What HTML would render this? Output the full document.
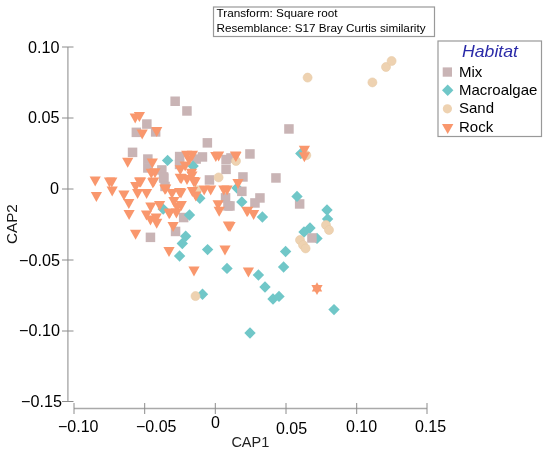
<!DOCTYPE html>
<html><head><meta charset="utf-8"><title>CAP</title>
<style>
html,body{margin:0;padding:0;background:#fff;}
body{width:550px;height:455px;overflow:hidden;position:relative;font-family:"Liberation Sans",Arial,sans-serif;}
svg{position:absolute;left:0;top:0;}
.t{font-family:"Liberation Sans",Arial,sans-serif;fill:#000;}
</style></head><body>
<svg width="550" height="455" viewBox="0 0 550 455">
<rect x="0" y="0" width="550" height="455" fill="#fff"/>
<!-- axes -->
<line x1="67.9" y1="47" x2="67.9" y2="401.5" stroke="#a9a9a9" stroke-width="1.4"/>
<line x1="74" y1="408.5" x2="427" y2="408.5" stroke="#a9a9a9" stroke-width="1.4"/>
<line x1="74" y1="403" x2="74" y2="414" stroke="#8c8c8c" stroke-width="1"/><line x1="144.7" y1="403" x2="144.7" y2="414" stroke="#8c8c8c" stroke-width="1"/><line x1="215.3" y1="403" x2="215.3" y2="414" stroke="#8c8c8c" stroke-width="1"/><line x1="286" y1="403" x2="286" y2="414" stroke="#8c8c8c" stroke-width="1"/><line x1="356.7" y1="403" x2="356.7" y2="414" stroke="#8c8c8c" stroke-width="1"/><line x1="427" y1="403" x2="427" y2="414" stroke="#8c8c8c" stroke-width="1"/><line x1="62" y1="47" x2="73.5" y2="47" stroke="#8c8c8c" stroke-width="1"/><line x1="62" y1="118" x2="73.5" y2="118" stroke="#8c8c8c" stroke-width="1"/><line x1="62" y1="189" x2="73.5" y2="189" stroke="#8c8c8c" stroke-width="1"/><line x1="62" y1="260" x2="73.5" y2="260" stroke="#8c8c8c" stroke-width="1"/><line x1="62" y1="331" x2="73.5" y2="331" stroke="#8c8c8c" stroke-width="1"/><line x1="62" y1="401.5" x2="73.5" y2="401.5" stroke="#8c8c8c" stroke-width="1"/>
<!-- y labels -->
<g class="t" font-size="16.2" text-anchor="end">
<text x="59.5" y="52.5">0.10</text>
<text x="59.5" y="122.5">0.05</text>
<text x="59" y="194">0</text>
<text x="60" y="266">−0.05</text>
<text x="60" y="336">−0.10</text>
<text x="62" y="407">−0.15</text>
</g>
<g class="t" font-size="16" text-anchor="start">
<text x="58" y="432">−0.10</text>
<text x="136" y="432">−0.05</text>
<text x="211" y="428">0</text>
<text x="276" y="433.5">0.05</text>
<text x="346" y="432">0.10</text>
<text x="415" y="432">0.15</text>
</g>
<text class="t" font-size="14.5" x="231.4" y="446.6" style="fill:#222">CAP1</text>
<text class="t" font-size="15.2" transform="translate(16.8,243.9) rotate(-90)" style="fill:#151515">CAP2</text>
<!-- info box -->
<rect x="213.5" y="7" width="221" height="29.5" fill="#fff" stroke="#999" stroke-width="1.2"/>
<text class="t" font-size="11" x="216.5" y="17.2" textLength="121" lengthAdjust="spacingAndGlyphs">Transform: Square root</text>
<text class="t" font-size="11" x="216.5" y="32" textLength="209" lengthAdjust="spacingAndGlyphs">Resemblance: S17 Bray Curtis similarity</text>
<!-- legend -->
<rect x="438" y="41" width="103.5" height="95.5" fill="#fff" stroke="#999" stroke-width="1.2"/>
<text font-family="Liberation Sans, Arial, sans-serif" font-style="italic" font-size="17" x="462" y="56.6" fill="#2a2aa8" textLength="56" lengthAdjust="spacingAndGlyphs">Habitat</text>
<g class="t" font-size="15">
<text x="459" y="76.5">Mix</text>
<text x="459" y="94.6">Macroalgae</text>
<text x="459" y="112.8">Sand</text>
<text x="459" y="131.5">Rock</text>
</g>
<rect x="442.7" y="67.4" width="9.3" height="9.3" fill="#c9b4b5"/>
<polygon points="447.7,84.6 453.4,90.3 447.7,96 442,90.3" fill="#70c7c8"/>
<circle cx="447.4" cy="108.8" r="4.6" fill="#eed2b1"/>
<polygon points="442,124 453.4,124 447.7,134" fill="#f9976d"/>
<!-- markers -->
<polygon points="237.0,182.3 242.7,188.0 237.0,193.7 231.3,188.0" fill="#70c7c8"/>
<polygon points="317.0,232.7 322.7,238.4 317.0,244.1 311.3,238.4" fill="#70c7c8"/>
<rect x="170.4" y="96.5" width="9.5" height="9.5" fill="#c9b4b5"/>
<rect x="182.2" y="106.2" width="9.5" height="9.5" fill="#c9b4b5"/>
<rect x="142.1" y="119.3" width="9.5" height="9.5" fill="#c9b4b5"/>
<rect x="131.6" y="127.6" width="9.5" height="9.5" fill="#c9b4b5"/>
<rect x="150.9" y="127.2" width="9.5" height="9.5" fill="#c9b4b5"/>
<rect x="127.8" y="147.6" width="9.5" height="9.5" fill="#c9b4b5"/>
<rect x="202.6" y="138.1" width="9.5" height="9.5" fill="#c9b4b5"/>
<rect x="145.7" y="232.6" width="9.5" height="9.5" fill="#c9b4b5"/>
<rect x="143.1" y="154.3" width="9.5" height="9.5" fill="#c9b4b5"/>
<rect x="143.1" y="163.2" width="9.5" height="9.5" fill="#c9b4b5"/>
<rect x="157.1" y="165.2" width="9.5" height="9.5" fill="#c9b4b5"/>
<rect x="159.1" y="173.4" width="9.5" height="9.5" fill="#c9b4b5"/>
<rect x="158.8" y="172.2" width="9.5" height="9.5" fill="#c9b4b5"/>
<rect x="160.3" y="181.7" width="9.5" height="9.5" fill="#c9b4b5"/>
<rect x="174.9" y="151.8" width="9.5" height="9.5" fill="#c9b4b5"/>
<rect x="174.8" y="159.7" width="9.5" height="9.5" fill="#c9b4b5"/>
<rect x="191.4" y="154.3" width="9.5" height="9.5" fill="#c9b4b5"/>
<rect x="197.7" y="152.2" width="9.5" height="9.5" fill="#c9b4b5"/>
<rect x="221.3" y="154.8" width="9.5" height="9.5" fill="#c9b4b5"/>
<rect x="221.3" y="164.6" width="9.5" height="9.5" fill="#c9b4b5"/>
<rect x="204.7" y="175.2" width="9.5" height="9.5" fill="#c9b4b5"/>
<rect x="220.8" y="193.1" width="9.5" height="9.5" fill="#c9b4b5"/>
<rect x="223.2" y="201.2" width="9.5" height="9.5" fill="#c9b4b5"/>
<rect x="237.1" y="186.6" width="9.5" height="9.5" fill="#c9b4b5"/>
<rect x="178.9" y="212.8" width="9.5" height="9.5" fill="#c9b4b5"/>
<rect x="170.8" y="226.7" width="9.5" height="9.5" fill="#c9b4b5"/>
<rect x="284.2" y="124.2" width="9.5" height="9.5" fill="#c9b4b5"/>
<rect x="245.2" y="149.2" width="9.5" height="9.5" fill="#c9b4b5"/>
<rect x="271.2" y="173.2" width="9.5" height="9.5" fill="#c9b4b5"/>
<rect x="226.2" y="153.2" width="9.5" height="9.5" fill="#c9b4b5"/>
<rect x="238.2" y="172.2" width="9.5" height="9.5" fill="#c9b4b5"/>
<rect x="255.2" y="193.2" width="9.5" height="9.5" fill="#c9b4b5"/>
<rect x="250.2" y="198.2" width="9.5" height="9.5" fill="#c9b4b5"/>
<rect x="225.2" y="201.2" width="9.5" height="9.5" fill="#c9b4b5"/>
<rect x="294.9" y="199.2" width="9.5" height="9.5" fill="#c9b4b5"/>
<rect x="307.2" y="233.2" width="9.5" height="9.5" fill="#c9b4b5"/>
<polygon points="167.6,154.7 173.3,160.4 167.6,166.1 161.9,160.4" fill="#70c7c8"/>
<polygon points="163.2,203.4 168.9,209.1 163.2,214.8 157.5,209.1" fill="#70c7c8"/>
<polygon points="193.1,160.4 198.8,166.1 193.1,171.8 187.4,166.1" fill="#70c7c8"/>
<polygon points="199.8,192.6 205.5,198.3 199.8,204.0 194.1,198.3" fill="#70c7c8"/>
<polygon points="241.8,196.2 247.5,201.9 241.8,207.6 236.1,201.9" fill="#70c7c8"/>
<polygon points="189.5,209.3 195.2,215.0 189.5,220.7 183.8,215.0" fill="#70c7c8"/>
<polygon points="185.7,230.6 191.4,236.3 185.7,242.0 180.0,236.3" fill="#70c7c8"/>
<polygon points="182.3,237.8 188.0,243.5 182.3,249.2 176.6,243.5" fill="#70c7c8"/>
<polygon points="179.6,250.3 185.3,256.0 179.6,261.7 173.9,256.0" fill="#70c7c8"/>
<polygon points="207.6,243.9 213.3,249.6 207.6,255.3 201.9,249.6" fill="#70c7c8"/>
<polygon points="227.0,262.7 232.7,268.4 227.0,274.1 221.3,268.4" fill="#70c7c8"/>
<polygon points="202.5,288.5 208.2,294.2 202.5,299.9 196.8,294.2" fill="#70c7c8"/>
<polygon points="300.8,147.9 306.5,153.6 300.8,159.3 295.1,153.6" fill="#70c7c8"/>
<polygon points="262.4,211.3 268.1,217.0 262.4,222.7 256.7,217.0" fill="#70c7c8"/>
<polygon points="297.0,190.7 302.7,196.4 297.0,202.1 291.3,196.4" fill="#70c7c8"/>
<polygon points="327.0,204.3 332.7,210.0 327.0,215.7 321.3,210.0" fill="#70c7c8"/>
<polygon points="327.6,213.3 333.3,219.0 327.6,224.7 321.9,219.0" fill="#70c7c8"/>
<polygon points="310.0,222.3 315.7,228.0 310.0,233.7 304.3,228.0" fill="#70c7c8"/>
<polygon points="304.0,226.3 309.7,232.0 304.0,237.7 298.3,232.0" fill="#70c7c8"/>
<polygon points="285.6,245.8 291.3,251.5 285.6,257.2 279.9,251.5" fill="#70c7c8"/>
<polygon points="283.6,261.3 289.3,267.0 283.6,272.7 277.9,267.0" fill="#70c7c8"/>
<polygon points="258.4,269.3 264.1,275.0 258.4,280.7 252.7,275.0" fill="#70c7c8"/>
<polygon points="265.0,281.3 270.7,287.0 265.0,292.7 259.3,287.0" fill="#70c7c8"/>
<polygon points="273.0,293.3 278.7,299.0 273.0,304.7 267.3,299.0" fill="#70c7c8"/>
<polygon points="279.0,290.7 284.7,296.4 279.0,302.1 273.3,296.4" fill="#70c7c8"/>
<polygon points="250.0,327.3 255.7,333.0 250.0,338.7 244.3,333.0" fill="#70c7c8"/>
<polygon points="334.0,303.9 339.7,309.6 334.0,315.3 328.3,309.6" fill="#70c7c8"/>
<circle cx="307.6" cy="77.6" r="4.5" fill="#eed2b1" stroke="#e7cba8" stroke-width="0.6"/>
<circle cx="372.4" cy="82.4" r="4.5" fill="#eed2b1" stroke="#e7cba8" stroke-width="0.6"/>
<circle cx="386.0" cy="67.0" r="4.5" fill="#eed2b1" stroke="#e7cba8" stroke-width="0.6"/>
<circle cx="391.6" cy="61.0" r="4.5" fill="#eed2b1" stroke="#e7cba8" stroke-width="0.6"/>
<circle cx="196.9" cy="190.3" r="4.5" fill="#eed2b1" stroke="#e7cba8" stroke-width="0.6"/>
<circle cx="218.6" cy="177.4" r="4.5" fill="#eed2b1" stroke="#e7cba8" stroke-width="0.6"/>
<circle cx="195.5" cy="296.1" r="4.5" fill="#eed2b1" stroke="#e7cba8" stroke-width="0.6"/>
<circle cx="306.3" cy="155.2" r="4.5" fill="#eed2b1" stroke="#e7cba8" stroke-width="0.6"/>
<circle cx="236.0" cy="161.0" r="4.5" fill="#eed2b1" stroke="#e7cba8" stroke-width="0.6"/>
<circle cx="326.0" cy="225.0" r="4.5" fill="#eed2b1" stroke="#e7cba8" stroke-width="0.6"/>
<circle cx="329.0" cy="230.0" r="4.5" fill="#eed2b1" stroke="#e7cba8" stroke-width="0.6"/>
<circle cx="300.0" cy="240.0" r="4.5" fill="#eed2b1" stroke="#e7cba8" stroke-width="0.6"/>
<circle cx="303.0" cy="245.0" r="4.5" fill="#eed2b1" stroke="#e7cba8" stroke-width="0.6"/>
<circle cx="305.6" cy="248.4" r="4.5" fill="#eed2b1" stroke="#e7cba8" stroke-width="0.6"/>
<polygon points="129.6,113.4 140.8,113.4 135.2,123.4" fill="#f9976d"/>
<polygon points="133.8,112.0 145.0,112.0 139.4,122.0" fill="#f9976d"/>
<polygon points="136.6,129.5 147.8,129.5 142.2,139.5" fill="#f9976d"/>
<polygon points="151.1,127.0 162.3,127.0 156.7,137.0" fill="#f9976d"/>
<polygon points="122.1,157.7 133.3,157.7 127.7,167.7" fill="#f9976d"/>
<polygon points="89.6,176.5 100.8,176.5 95.2,186.5" fill="#f9976d"/>
<polygon points="103.9,177.4 115.1,177.4 109.5,187.4" fill="#f9976d"/>
<polygon points="106.2,177.4 117.4,177.4 111.8,187.4" fill="#f9976d"/>
<polygon points="106.6,186.4 117.8,186.4 112.2,196.4" fill="#f9976d"/>
<polygon points="90.8,192.1 102.0,192.1 96.4,202.1" fill="#f9976d"/>
<polygon points="118.3,190.5 129.5,190.5 123.9,200.5" fill="#f9976d"/>
<polygon points="123.2,199.1 134.4,199.1 128.8,209.1" fill="#f9976d"/>
<polygon points="123.5,210.1 134.7,210.1 129.1,220.1" fill="#f9976d"/>
<polygon points="130.0,229.7 141.2,229.7 135.6,239.7" fill="#f9976d"/>
<polygon points="146.7,158.5 157.9,158.5 152.3,168.5" fill="#f9976d"/>
<polygon points="145.7,168.8 156.9,168.8 151.3,178.8" fill="#f9976d"/>
<polygon points="149.4,168.2 160.6,168.2 155.0,178.2" fill="#f9976d"/>
<polygon points="148.0,177.5 159.2,177.5 153.6,187.5" fill="#f9976d"/>
<polygon points="134.0,177.6 145.2,177.6 139.6,187.6" fill="#f9976d"/>
<polygon points="130.1,182.0 141.3,182.0 135.7,192.0" fill="#f9976d"/>
<polygon points="132.0,189.0 143.2,189.0 137.6,199.0" fill="#f9976d"/>
<polygon points="141.0,189.0 152.2,189.0 146.6,199.0" fill="#f9976d"/>
<polygon points="135.0,177.4 146.2,177.4 140.6,187.4" fill="#f9976d"/>
<polygon points="147.2,178.2 158.4,178.2 152.8,188.2" fill="#f9976d"/>
<polygon points="154.0,201.0 165.2,201.0 159.6,211.0" fill="#f9976d"/>
<polygon points="140.9,210.5 152.1,210.5 146.5,220.5" fill="#f9976d"/>
<polygon points="144.9,215.5 156.1,215.5 150.5,225.5" fill="#f9976d"/>
<polygon points="150.6,213.6 161.8,213.6 156.2,223.6" fill="#f9976d"/>
<polygon points="151.1,218.7 162.3,218.7 156.7,228.7" fill="#f9976d"/>
<polygon points="163.6,209.3 174.8,209.3 169.2,219.3" fill="#f9976d"/>
<polygon points="145.2,202.5 156.4,202.5 150.8,212.5" fill="#f9976d"/>
<polygon points="181.1,150.8 192.3,150.8 186.7,160.8" fill="#f9976d"/>
<polygon points="186.8,150.8 198.0,150.8 192.4,160.8" fill="#f9976d"/>
<polygon points="183.7,155.5 194.9,155.5 189.3,165.5" fill="#f9976d"/>
<polygon points="179.6,161.5 190.8,161.5 185.2,171.5" fill="#f9976d"/>
<polygon points="174.7,165.2 185.9,165.2 180.3,175.2" fill="#f9976d"/>
<polygon points="210.2,152.0 221.4,152.0 215.8,162.0" fill="#f9976d"/>
<polygon points="213.0,151.5 224.2,151.5 218.6,161.5" fill="#f9976d"/>
<polygon points="230.3,152.0 241.5,152.0 235.9,162.0" fill="#f9976d"/>
<polygon points="174.7,173.8 185.9,173.8 180.3,183.8" fill="#f9976d"/>
<polygon points="185.9,168.8 197.1,168.8 191.5,178.8" fill="#f9976d"/>
<polygon points="188.1,177.0 199.3,177.0 193.7,187.0" fill="#f9976d"/>
<polygon points="160.1,184.6 171.3,184.6 165.7,194.6" fill="#f9976d"/>
<polygon points="166.4,189.0 177.6,189.0 172.0,199.0" fill="#f9976d"/>
<polygon points="175.4,188.4 186.6,188.4 181.0,198.4" fill="#f9976d"/>
<polygon points="186.8,187.1 198.0,187.1 192.4,197.1" fill="#f9976d"/>
<polygon points="175.7,174.1 186.9,174.1 181.3,184.1" fill="#f9976d"/>
<polygon points="186.3,171.6 197.5,171.6 191.9,181.6" fill="#f9976d"/>
<polygon points="189.6,177.4 200.8,177.4 195.2,187.4" fill="#f9976d"/>
<polygon points="159.3,184.7 170.5,184.7 164.9,194.7" fill="#f9976d"/>
<polygon points="174.0,188.0 185.2,188.0 179.6,198.0" fill="#f9976d"/>
<polygon points="198.6,185.5 209.8,185.5 204.2,195.5" fill="#f9976d"/>
<polygon points="205.1,185.5 216.3,185.5 210.7,195.5" fill="#f9976d"/>
<polygon points="218.2,185.5 229.4,185.5 223.8,195.5" fill="#f9976d"/>
<polygon points="221.5,185.5 232.7,185.5 227.1,195.5" fill="#f9976d"/>
<polygon points="212.5,200.3 223.7,200.3 218.1,210.3" fill="#f9976d"/>
<polygon points="213.6,206.8 224.8,206.8 219.2,216.8" fill="#f9976d"/>
<polygon points="242.0,206.8 253.2,206.8 247.6,216.8" fill="#f9976d"/>
<polygon points="222.8,221.6 234.0,221.6 228.4,231.6" fill="#f9976d"/>
<polygon points="175.7,201.1 186.9,201.1 181.3,211.1" fill="#f9976d"/>
<polygon points="164.2,208.5 175.4,208.5 169.8,218.5" fill="#f9976d"/>
<polygon points="170.8,208.5 182.0,208.5 176.4,218.5" fill="#f9976d"/>
<polygon points="167.5,222.0 178.7,222.0 173.1,232.0" fill="#f9976d"/>
<polygon points="163.4,247.0 174.6,247.0 169.0,257.0" fill="#f9976d"/>
<polygon points="219.4,245.6 230.6,245.6 225.0,255.6" fill="#f9976d"/>
<polygon points="188.4,266.6 199.6,266.6 194.0,276.6" fill="#f9976d"/>
<polygon points="242.8,267.6 254.0,267.6 248.4,277.6" fill="#f9976d"/>
<polygon points="181.4,175.0 192.6,175.0 187.0,185.0" fill="#f9976d"/>
<polygon points="190.2,191.4 201.4,191.4 195.8,201.4" fill="#f9976d"/>
<polygon points="168.3,197.0 179.5,197.0 173.9,207.0" fill="#f9976d"/>
<polygon points="171.6,202.7 182.8,202.7 177.2,212.7" fill="#f9976d"/>
<polygon points="298.8,145.8 310.0,145.8 304.4,155.8" fill="#f9976d"/>
<polygon points="298.8,152.2 310.0,152.2 304.4,162.2" fill="#f9976d"/>
<polygon points="230.0,151.6 241.2,151.6 235.6,161.6" fill="#f9976d"/>
<polygon points="232.4,179.0 243.6,179.0 238.0,189.0" fill="#f9976d"/>
<polygon points="241.4,207.0 252.6,207.0 247.0,217.0" fill="#f9976d"/>
<polygon points="248.0,210.0 259.2,210.0 253.6,220.0" fill="#f9976d"/>
<polygon points="224.4,222.0 235.6,222.0 230.0,232.0" fill="#f9976d"/>
<polygon points="311.4,285.1 322.6,285.1 317.0,294.9" fill="#f9976d"/><polygon points="311.8,291.5 322.2,291.5 317.0,282.3" fill="#f9976d"/>
</svg>
</body></html>
